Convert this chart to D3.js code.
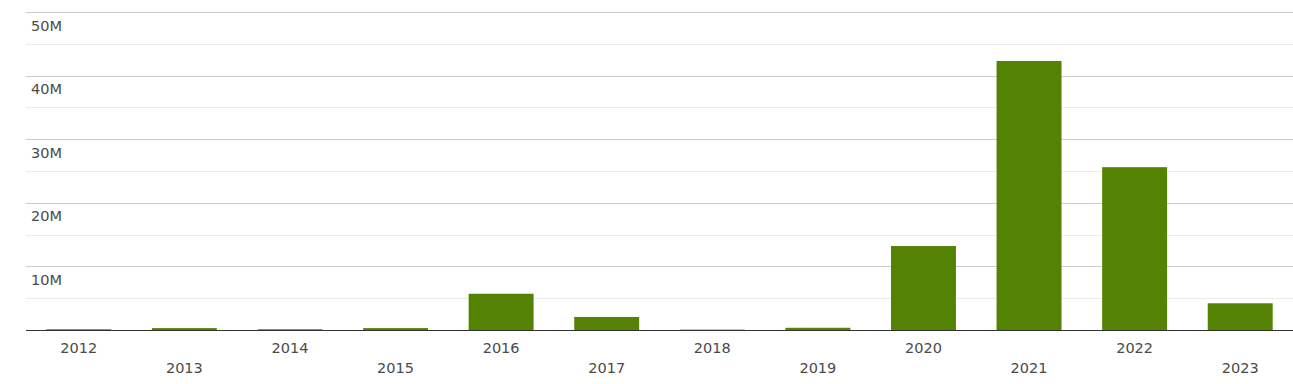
<!DOCTYPE html>
<html>
<head>
<meta charset="utf-8">
<script src="https://cdn.jsdelivr.net/npm/d3@7"></script>
<style>
  body { margin: 0; background: #fff; }
  text { font-family: "DejaVu Sans", sans-serif; font-size: 14.5px; fill: #4a4a4a; }
</style>
</head>
<body>
<svg id="chart"></svg>
<script>
const years = ["2012","2013","2014","2015","2016","2017","2018","2019","2020","2021","2022","2023"];
const values = [0.12e6, 0.3e6, 0.12e6, 0.3e6, 5.7e6, 2.05e6, 0.06e6, 0.35e6, 13.2e6, 42.3e6, 25.6e6, 4.2e6];
const majorTicks = [10e6, 20e6, 30e6, 40e6, 50e6];
const minorTicks = [5e6, 15e6, 25e6, 35e6, 45e6];

const width = 1293, height = 384;
const margin = {top: 12, right: 0, bottom: 54, left: 26};

const svg = d3.select("#chart").attr("width", width).attr("height", height);
const chart = svg.append("g").attr("transform", `translate(${margin.left},${margin.top})`);
const w = width - margin.left - margin.right;
const h = height - margin.top - margin.bottom;

const x = d3.scaleBand().domain(years).range([0, w]).paddingInner(0.385).paddingOuter(0.1925);
const y = d3.scaleLinear().domain([0, 50e6]).range([h, 0]);

// minor grid
chart.selectAll(".minor").data(minorTicks).enter().append("line")
  .attr("x1", 0).attr("x2", w)
  .attr("y1", d => Math.round(y(d)) + 0.5).attr("y2", d => Math.round(y(d)) + 0.5)
  .attr("stroke", "#ebebeb");

// major grid
chart.selectAll(".major").data(majorTicks).enter().append("line")
  .attr("x1", 0).attr("x2", w)
  .attr("y1", d => Math.round(y(d)) + 0.5).attr("y2", d => Math.round(y(d)) + 0.5)
  .attr("stroke", "#cccccc");

chart.selectAll(".ylab").data(majorTicks).enter().append("text")
  .attr("x", 5).attr("y", d => y(d) + 18.5)
  .text(d => d3.format("~s")(d));

// bars
chart.selectAll(".bar").data(years).enter().append("rect")
  .attr("x", d => x(d))
  .attr("width", x.bandwidth())
  .attr("y", (d, i) => y(values[i]))
  .attr("height", (d, i) => h - y(values[i]))
  .attr("fill", "#548203");

// baseline
chart.append("line")
  .attr("x1", 0).attr("x2", w)
  .attr("y1", h + 0.5).attr("y2", h + 0.5)
  .attr("stroke", "#333").attr("stroke-width", 1.2);

// x labels, staggered
chart.selectAll(".xlab").data(years).enter().append("text")
  .attr("x", d => x(d) + x.bandwidth() / 2)
  .attr("y", (d, i) => h + (i % 2 === 0 ? 23 : 43))
  .attr("text-anchor", "middle")
  .text(d => d);
</script>
</body>
</html>
